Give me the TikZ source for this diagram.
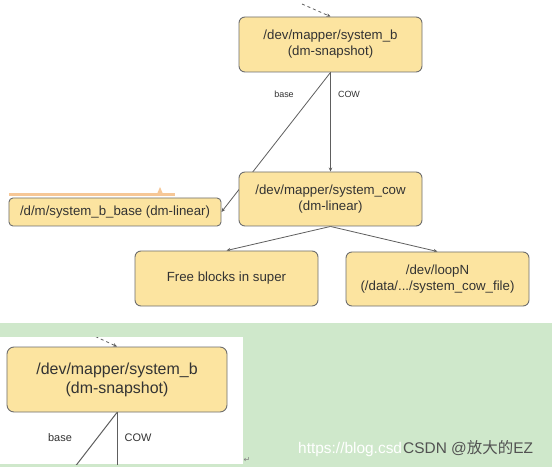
\documentclass[tikz,border=0pt]{standalone}
\usepackage{fontspec}
\setmainfont{Liberation Sans}
\newfontfamily\cjkf{Noto Sans CJK SC}
\newfontfamily\dejavu{DejaVu Sans}
\usetikzlibrary{arrows.meta}
\definecolor{boxfill}{HTML}{FCE4A0}
\definecolor{boxline}{HTML}{6E6E6E}
\definecolor{greenbg}{HTML}{CFE8CB}
\definecolor{lineclr}{HTML}{5E5E5E}
\definecolor{txt}{HTML}{333333}
\definecolor{artif}{HTML}{F6C796}
\pgfdeclarelayer{bg}
\pgfsetlayers{bg,main}
\begin{document}
\begin{tikzpicture}[x=1bp,y=-1bp,
  dbox/.style={draw=boxline, line width=0.9bp, fill=boxfill, rounded corners=6bp,
    inner sep=0pt, align=center, text=txt, font=\fontsize{13.3}{16}\selectfont},
  conn/.style={draw=lineclr, line width=0.8bp, -{Stealth[length=4bp,width=3.5bp]}},
  lbl/.style={font=\fontsize{9}{11}\selectfont, text=txt}]
\useasboundingbox (0,0) rectangle (552,467);

% ---------- upper diagram ----------
\fill[artif] (9,193) rectangle (175,196);
\fill[artif] (157,194) -- (160,187) -- (163,194) -- cycle;

\node[dbox, minimum width=183bp, minimum height=55bp] (b1) at (330.5,44.5)
  {/dev/mapper/system\_b\\(dm-snapshot)};
\node[dbox, minimum width=183bp, minimum height=54bp] (cow) at (330.5,199)
  {/dev/mapper/system\_cow\\(dm-linear)};
\node[dbox, rounded corners=4bp, minimum width=212bp, minimum height=28bp] (base) at (115,212)
  {/d/m/system\_b\_base (dm-linear)};
\node[dbox, minimum width=183bp, minimum height=55bp] (free) at (226.5,278.5)
  {Free blocks in super};
\node[dbox, minimum width=183bp, minimum height=54bp] (loop) at (437.5,279)
  {/dev/loopN\\(/data/.../system\_cow\_file)};

\node[lbl] (lbase) at (284,94) {base};
\node[lbl] (lcow) at (349,94) {COW};

\coordinate (d1) at (302,4);
\begin{pgfonlayer}{bg}
  \fill[white] (0,0) rectangle (552,467);
  \draw[conn, dashed] (d1) -- (b1.north);
  \draw[conn] (b1.south) -- (base.east);
  \draw[conn] (b1.south) -- (cow.north);
  \draw[conn] (cow.south) -- (free.north);
  \draw[conn] (cow.south) -- (loop.north);
\end{pgfonlayer}

% ---------- lower (pasted copy) ----------
\fill[greenbg] (0,323) rectangle (552,467);
\fill[white] (0,337) rectangle (243,464);
\begin{scope}
  \clip (0,337) rectangle (243,464);
  \node[dbox, rounded corners=7bp, minimum width=220bp, minimum height=65bp,
    font=\fontsize{16}{19}\selectfont] (b2) at (117,379.5)
    {/dev/mapper/system\_b\\(dm-snapshot)};
  \coordinate (d2) at (90,334);
  \coordinate (e1) at (117,470);
  \coordinate (e2) at (72.5,470);
  \draw[conn, dashed] (d2) -- (b2.north);
  \draw[draw=lineclr, line width=1bp] (b2.south) -- (e1);
  \draw[draw=lineclr, line width=1bp] (b2.south) -- (e2);
  \node[lbl, font=\fontsize{11}{13}\selectfont] (lbase2) at (60,438) {base};
  \node[lbl, font=\fontsize{11}{13}\selectfont] (lcow2) at (138,438) {COW};
\end{scope}
\node[font=\dejavu\fontsize{8}{8}\selectfont, text=gray] (ret) at (247,460) {↵};

% ---------- watermark ----------
\node[anchor=base west, inner sep=0pt, text=white, font=\fontsize{15.5}{18}\selectfont] (wm1) at (298,453)
  {https://blog.csd};
\node[anchor=base west, inner sep=0pt, text=black!68, font=\fontsize{15.5}{18}\selectfont] (wm2) at (403,453)
  {CSDN @{\cjkf 放大的}EZ};
\end{tikzpicture}
\end{document}
